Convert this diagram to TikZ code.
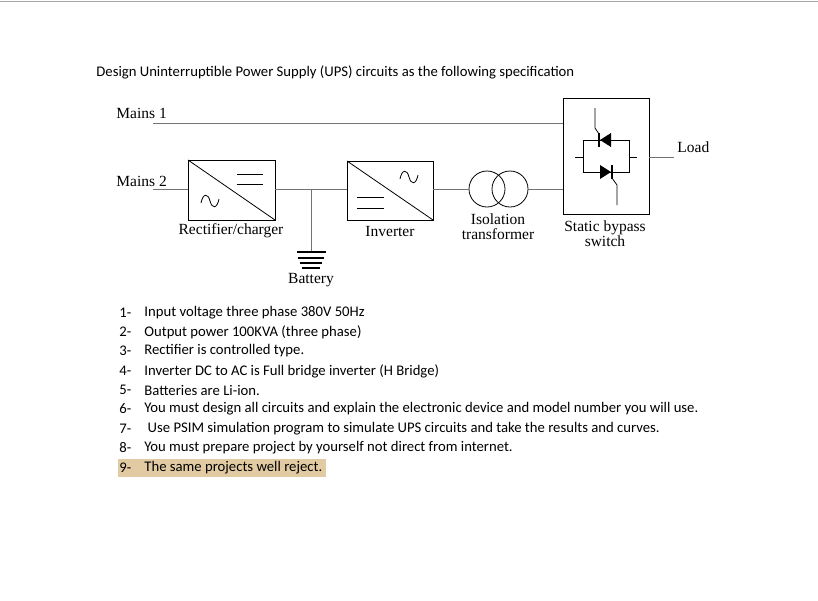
\documentclass[tikz,border=0pt]{standalone}
\usepackage{fontspec}
\setmainfont{Carlito}
\newfontfamily\labelfont{Liberation Serif}
\usetikzlibrary{positioning}
\definecolor{hilite}{HTML}{E2CBA2}
\begin{document}
\begin{tikzpicture}[x=1pt,y=-1pt,line width=0.8pt,
    wire/.style={draw=black!55,line width=1pt},
    box/.style={draw,line width=1pt},
    lbl/.style={font=\labelfont\fontsize{15.5}{15}\selectfont,align=center,inner sep=0pt},
    item/.style={font=\fontsize{14.7}{16}\selectfont,anchor=west,inner sep=0pt}]
\useasboundingbox (0,0) rectangle (818,600);
\draw[black!35] (0,1.5) -- (818,1.5);
\node[item] (title) at (96,72) {Design Uninterruptible Power Supply (UPS) circuits as the following specification};
% diagram
\node[lbl,anchor=west] (m1) at (116,113) {Mains 1};
\node[lbl,anchor=west] (m2) at (116,181) {Mains 2};
\coordinate (m1s) at (153,123);
\coordinate (m2s) at (153,189);
% rectifier
\draw[box] (188,160) rectangle (275,220);
\draw (188,160) -- (275,220);
\draw (237,174) -- (263,174) (237,184) -- (263,184);
\draw (201,203) .. controls (203,193) and (208,193) .. (210,201) .. controls (212,209) and (217,209) .. (219,199);
\node[lbl] (rect) at (231,231) {Rectifier/charger};
% inverter
\draw[box] (347,161) rectangle (433,220);
\draw (347,161) -- (433,220);
\draw (357,197) -- (384,197) (357,208) -- (384,208);
\draw (400,179) .. controls (402,169) and (407,169) .. (409,177) .. controls (411,185) and (416,185) .. (418,175);
\node[lbl] (inv) at (390,231) {Inverter};
% battery
\coordinate (bt) at (311,189);
\coordinate (bb) at (311,252);
\draw[wire] (bt) -- (bb);
\draw[line width=1.2pt] (297,252) -- (326,252) (298,258) -- (324,258) (300,263) -- (322,263) (302,268) -- (320,268);
\node[lbl] (bat) at (311,280) {Battery};
% transformer
\draw (487,189) circle (18) (510,189) circle (18);
\node[lbl] (tr) at (498,227) {Isolation\\transformer};
% static switch
\draw[box] (563,98) rectangle (649,214);
\draw (583,140) rectangle (629,172);
\draw (575,157) -- (583,157) (629,157) -- (637,157);
\fill (600,140) -- (611,133) -- (611,147) -- cycle;
\draw[line width=1.2pt] (599,133) -- (599,147);
\draw (595,108) -- (595,128) -- (599,134);
\fill (611,172) -- (600,165) -- (600,179) -- cycle;
\draw[line width=1.2pt] (612,165) -- (612,179);
\draw (612,178) -- (617,185) -- (617,205);
\node[lbl] (sw) at (605,234) {Static bypass\\switch};
\node[lbl,anchor=west] (load) at (677,147) {Load};
% wires
\draw[wire] (m1s) -- (563,123);
\draw[wire] (m2s) -- (188,189);
\draw[wire] (275,189) -- (347,189);
\draw[wire] (433,189) -- (469,189);
\draw[wire] (528,189) -- (563,189);
\draw[wire] (649,157) -- (674,157);
% specification list
\fill[hilite] (118,459) rectangle (326,477);
\foreach \n/\y/\t in {1/313/Input voltage three phase 380V 50Hz,
    2/332/Output power 100KVA (three phase),
    3/351/Rectifier is controlled type.,
    4/371/Inverter DC to AC is Full bridge inverter (H Bridge),
    5/390/Batteries are Li-ion.,
    6/409/You must design all circuits and explain the electronic device and model number you will use.,
    7/429/\ Use PSIM simulation program to simulate UPS circuits and take the results and curves.,
    8/448/You must prepare project by yourself not direct from internet.,
    9/468/The same projects well reject.}
  {\node[item] (n\n) at (119,\y) {\n-};
   \node[item] (t\n) at (144,\y) {\t};}
\end{tikzpicture}
\end{document}
